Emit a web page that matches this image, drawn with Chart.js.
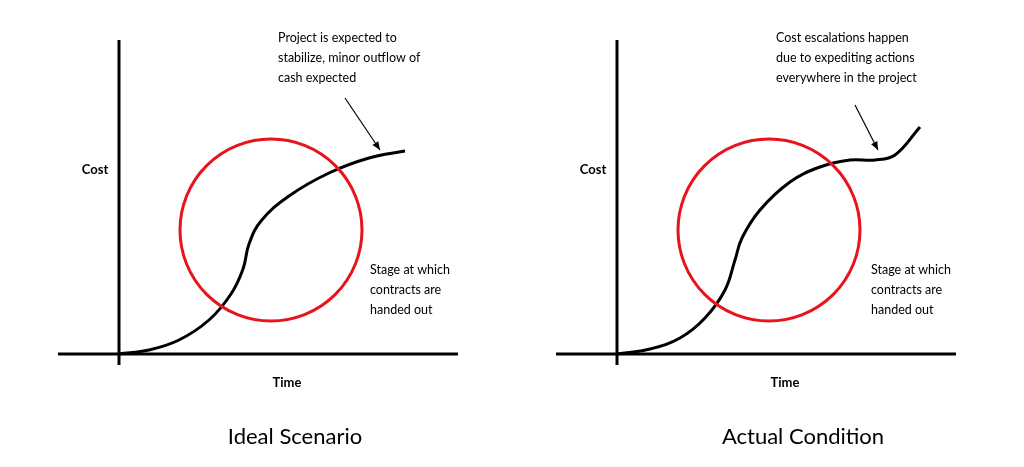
<!DOCTYPE html>
<html>
<head>
<meta charset="utf-8">
<script src="https://cdn.jsdelivr.net/npm/chart.js@4"></script>
<style>
  body { margin: 0; background: #fff; }
  .wrap { display: flex; width: 1024px; height: 467px; }
  .panel { width: 512px; height: 467px; position: relative; }
</style>
</head>
<body>
<div class="wrap">
  <div class="panel"><canvas id="left"></canvas></div>
  <div class="panel"><canvas id="right"></canvas></div>
</div>
<script>
// curve points: [time, cost]
const idealTime = [0, 30, 60, 90, 112, 124, 130, 142, 170, 210, 250, 286];
const idealCost = [0, 4, 14, 34, 60, 85, 110, 133, 158, 181, 196, 203];
const actualTime = [0, 33, 63, 88, 108, 118, 125, 143, 173, 203, 233, 258, 278, 303];
const actualCost = [0, 5, 16, 36, 64, 94, 116, 144, 172, 187, 194, 194, 199, 227];
const stageCircle = [152, 124]; // centre of the contract stage circle
const titles = ['Ideal Scenario', 'Actual Condition'];
const notes = [
  ['Project is expected to', 'stabilize, minor outflow of', 'cash expected'],
  ['Cost escalations happen', 'due to expediting actions', 'everywhere in the project']
];
const stageNote = ['Stage at which', 'contracts are', 'handed out'];

function toPoints(xs, ys) {
  return xs.map((x, i) => ({ x: x, y: ys[i] }));
}

function makeChart(id, originX, xs, ys, idx, arrow, stageX, titleX) {
  const decor = {
    id: 'decor',
    afterDatasetsDraw(chart) {
      const c = chart.ctx;
      const ox = chart.scales.x.getPixelForValue(0);
      const oy = chart.scales.y.getPixelForValue(0);
      c.save();
      c.strokeStyle = '#000';
      c.lineWidth = 3;
      c.beginPath();
      c.moveTo(ox - 61, oy); c.lineTo(ox + 339, oy);
      c.moveTo(ox, oy - 314); c.lineTo(ox, oy + 11);
      c.stroke();
      // arrow
      c.lineWidth = 1.2;
      c.beginPath();
      c.moveTo(ox + arrow[0], oy - arrow[1]);
      c.lineTo(ox + arrow[2], oy - arrow[3]);
      c.stroke();
      const ang = Math.atan2(arrow[1] - arrow[3], arrow[2] - arrow[0]);
      c.beginPath();
      c.moveTo(ox + arrow[2], oy - arrow[3]);
      c.lineTo(ox + arrow[2] - 9 * Math.cos(ang - 0.4), oy - arrow[3] - 9 * Math.sin(ang - 0.4));
      c.lineTo(ox + arrow[2] - 9 * Math.cos(ang + 0.4), oy - arrow[3] - 9 * Math.sin(ang + 0.4));
      c.closePath();
      c.fillStyle = '#000';
      c.fill();
      c.textBaseline = 'middle';
      c.font = 'bold 13px Lato, "Open Sans", sans-serif';
      c.textAlign = 'center';
      c.fillText('Cost', ox - 24, oy - 184);
      c.fillText('Time', ox + 168, oy + 29);
      c.font = '12.5px Lato, "Open Sans", sans-serif';
      c.textAlign = 'left';
      notes[idx].forEach((t, i) => c.fillText(t, ox + 159, oy - 316 + i * 20));
      stageNote.forEach((t, i) => c.fillText(t, ox + stageX, oy - 84 + i * 20));
      c.font = '22px Lato, "Open Sans", sans-serif';
      c.textAlign = 'center';
      c.fillText(titles[idx], ox + titleX, oy + 83);
      c.restore();
    }
  };
  new Chart(document.getElementById(id), {
    type: 'scatter',
    data: {
      datasets: [{
        type: 'bubble',
        data: [{ x: stageCircle[0], y: stageCircle[1], r: 91 }],
        borderColor: '#e8141b',
        backgroundColor: 'rgba(0,0,0,0)',
        borderWidth: 3,
        clip: false
      }, {
        type: 'line',
        data: toPoints(xs, ys),
        borderColor: '#000',
        borderWidth: 3,
        pointRadius: 0,
        tension: 0.4,
        fill: false,
        clip: false
      }]
    },
    options: {
      responsive: false,
      animation: false,
      maintainAspectRatio: false,
      layout: { padding: 0, autoPadding: false },
      plugins: { legend: { display: false }, tooltip: { enabled: false } },
      scales: {
        x: { type: 'linear', display: false, min: -originX, max: 512 - originX },
        y: { type: 'linear', display: false, min: -113, max: 354 }
      }
    },
    plugins: [decor]
  });
}

['left', 'right'].forEach(id => {
  const cv = document.getElementById(id);
  cv.width = 512; cv.height = 467;
});
makeChart('left', 119, idealTime, idealCost, 0, [226, 256, 261, 204], 251, 176);
makeChart('right', 105, actualTime, actualCost, 1, [238, 249, 261, 204], 254, 186);
</script>
</body>
</html>
